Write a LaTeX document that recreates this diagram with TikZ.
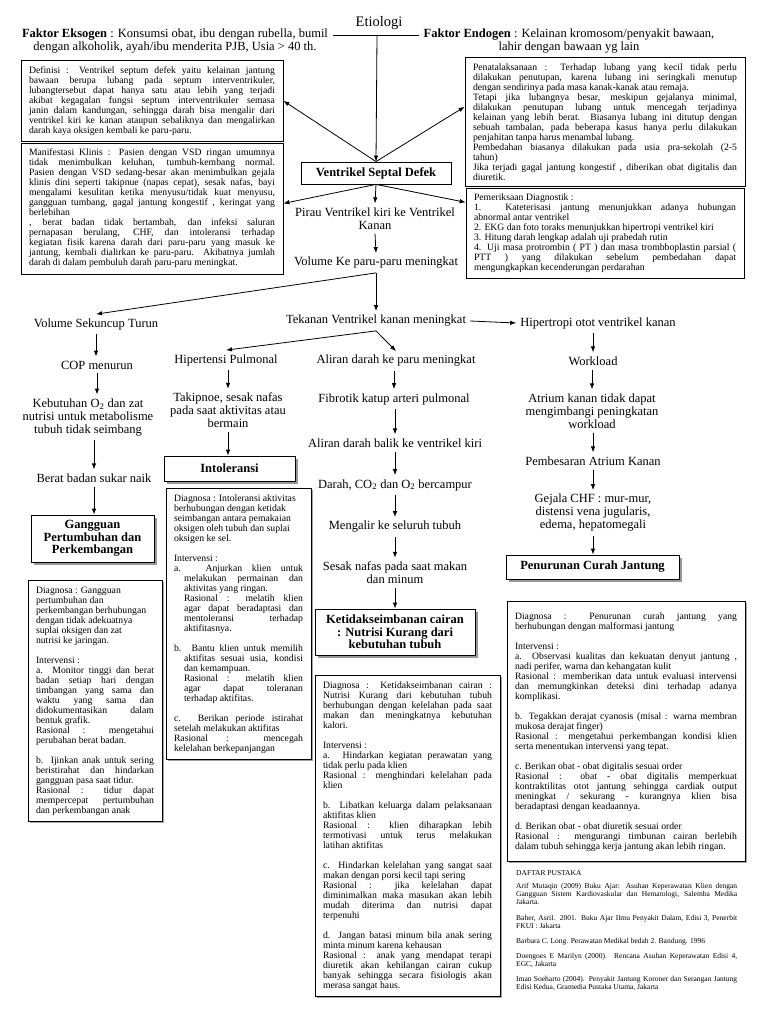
\documentclass[tikz,border=0pt]{standalone}
\usepackage{fontspec}
\setmainfont{Liberation Serif}
\usepackage{tikz}
\usetikzlibrary{arrows.meta,positioning,shadows}
\definecolor{shadowgray}{RGB}{125,125,125}
\newcommand{\blankrow}{\par\vspace{10pt}}
\newcommand{\itemhang}{\hangindent=10pt\hangafter=1\relax}
\hbadness=10000
\hfuzz=3pt

\begin{document}
\begin{tikzpicture}[
      x=1pt, y=-1pt,
      lbl/.style={font=\fontsize{12.5}{13}\selectfont, align=center, inner sep=4pt},
      infobox/.style={draw, line width=0.7pt, fill=white, align=justify,
        inner xsep=8pt, inner ysep=6pt, font=\fontsize{9.7}{10}\selectfont},
      diagbox/.style={infobox, drop shadow={shadow xshift=1.5pt,
        shadow yshift=-1.5pt, fill=shadowgray, opacity=0.7}},
      keybox/.style={draw, line width=0.8pt, fill=white, align=center,
        font=\bfseries\fontsize{12.5}{12.5}\selectfont},
      headbox/.style={keybox, drop shadow={shadow xshift=2.5pt,
        shadow yshift=-2.5pt, fill=shadowgray, opacity=0.8}},
      arr/.style={-{Latex[length=6pt, width=4.5pt]}, line width=0.8pt},
      link/.style={line width=0.8pt}
    ]
    \useasboundingbox[fill=white] (0,0) rectangle (768,1024);

    \node[lbl, font=\fontsize{14.5}{15}\selectfont] (etiologi) at (379,23) {Etiologi};
    \node[lbl] (eksogen) at (175,41.5) {\textbf{Faktor Eksogen} : Konsumsi obat, ibu dengan rubella, bumil\\dengan alkoholik, ayah/ibu menderita PJB, Usia > 40 th.};
    \node[lbl] (endogen) at (569,41.5) {\textbf{Faktor Endogen} : Kelainan kromosom/penyakit bawaan,\\lahir dengan bawaan yg lain};
    \coordinate (etL) at (333,35);
    \coordinate (etR) at (419,35);
    \coordinate (etM) at (377,35);

    \node[infobox, text width=246pt, anchor=north] (definisi) at (152,60)
      {Definisi : Ventrikel septum defek yaitu kelainan jantung\linebreak
       bawaan berupa lubang pada septum interventrikuler,\linebreak
       lubangtersebut dapat hanya satu atau lebih yang terjadi\linebreak
       akibat kegagalan fungsi septum interventrikuler semasa\linebreak
       janin dalam kandungan, sehingga darah bisa mengalir dari\linebreak
       ventrikel kiri ke kanan ataupun sebaliknya dan mengalirkan\linebreak
       darah kaya oksigen kembali ke paru-paru.};
    \node[infobox, text width=246pt, below=1pt of definisi] (manifestasi)
      {Manifestasi Klinis : Pasien dengan VSD ringan umumnya\linebreak
       tidak menimbulkan keluhan, tumbuh-kembang normal.\linebreak
       Pasien dengan VSD sedang-besar akan menimbulkan gejala\linebreak
       klinis dini seperti takipnue (napas cepat), sesak nafas, bayi\linebreak
       mengalami kesulitan ketika menyusu/tidak kuat menyusu,\linebreak
       gangguan tumbang, gagal jantung kongestif , keringat yang\linebreak
       berlebihan\\
       , berat badan tidak bertambah, dan infeksi saluran\linebreak
       pernapasan berulang, CHF, dan intoleransi terhadap\linebreak
       kegiatan fisik karena darah dari paru-paru yang masuk ke\linebreak
       jantung, kembali dialirkan ke paru-paru. Akibatnya jumlah\linebreak
       darah di dalam pembuluh darah paru-paru meningkat.};

    \node[infobox, text width=264pt, anchor=north] (penatalaksanaan) at (605,57)
      {Penatalaksanaan : Terhadap lubang yang kecil tidak perlu\linebreak
       dilakukan penutupan, karena lubang ini seringkali menutup\linebreak
       dengan sendirinya pada masa kanak-kanak atau remaja.\\
       Tetapi jika lubangnya besar, meskipun gejalanya minimal,\linebreak
       dilakukan penutupan lubang untuk mencegah terjadinya\linebreak
       kelainan yang lebih berat. Biasanya lubang ini ditutup dengan\linebreak
       sebuah tambalan, pada beberapa kasus hanya perlu dilakukan\linebreak
       penjahitan tanpa harus menambal lubang.\\
       Pembedahan biasanya dilakukan pada usia pra-sekolah (2-5\linebreak
       tahun)\\
       Jika terjadi gagal jantung kongestif , diberikan obat digitalis dan\linebreak
       diuretik.};
    \node[infobox, text width=262pt, below=1pt of penatalaksanaan] (pemeriksaan)
      {Pemeriksaan Diagnostik :\\
       1. Kateterisasi jantung menunjukkan adanya hubungan\linebreak
       abnormal antar ventrikel\\
       2. EKG dan foto toraks menunjukkan hipertropi ventrikel kiri\\
       3. Hitung darah lengkap adalah uji prabedah rutin\\
       4. Uji masa protrombin ( PT ) dan masa trombboplastin parsial (\linebreak
       PTT ) yang dilakukan sebelum pembedahan dapat\linebreak
       mengungkapkan kecenderungan perdarahan};

    \node[keybox, minimum width=150pt, minimum height=22pt] (vsd) at (376,173) {Ventrikel Septal Defek};
    \node[lbl] (pirau) at (375,218.5) {Pirau Ventrikel kiri ke Ventrikel\\Kanan};
    \node[lbl] (volparu) at (376,263) {Volume Ke paru-paru meningkat};
    \node[lbl] (volsek) at (96,324) {Volume Sekuncup Turun};
    \node[lbl] (tekanan) at (376,321) {Tekanan Ventrikel kanan meningkat};
    \node[lbl] (hipertropi) at (598,323) {Hipertropi otot ventrikel kanan};
    \node[lbl] (hipertensi) at (226,360) {Hipertensi Pulmonal};
    \node[lbl] (aliran) at (396,361) {Aliran darah ke paru meningkat};

    \node[lbl] (cop) at (97,365) {COP menurun};
    \node[lbl] (kebutuhan) at (88,417.5) {Kebutuhan O\textsubscript{2} dan zat\\nutrisi untuk metabolisme\\tubuh tidak seimbang};
    \node[lbl] (berat) at (94,478) {Berat badan sukar naik};
    \node[headbox, minimum width=123pt, minimum height=47pt] (gangguan) at (92.5,538.5) {Gangguan\\Pertumbuhan dan\\Perkembangan};
    \node[diagbox, text width=118pt, below=18pt of gangguan, xshift=2.5pt] (diaggangguan)
      {Diagnosa : Gangguan\\
       pertumbuhan dan\\
       perkembangan berhubungan\\
       dengan tidak adekuatnya\\
       suplai oksigen dan zat\\
       nutrisi ke jaringan.\blankrow
       Intervensi :\\
       a. Monitor tinggi dan berat\linebreak
       badan setiap hari dengan\linebreak
       timbangan yang sama dan\linebreak
       waktu yang sama dan\linebreak
       didokumentasikan dalam\linebreak
       bentuk grafik.\\
       Rasional : mengetahui\linebreak
       perubahan berat badan.\blankrow
       b. Ijinkan anak untuk sering\linebreak
       beristirahat dan hindarkan\linebreak
       gangguan pasa saat tidur.\\
       Rasional : tidur dapat\linebreak
       mempercepat pertumbuhan\linebreak
       dan perkembangan anak};

    \node[lbl] (takipnoe) at (228,410.5) {Takipnoe, sesak nafas\\pada saat aktivitas atau\\bermain};
    \node[headbox, minimum width=131pt, minimum height=25pt] (intoleransi) at (229.5,468.5) {Intoleransi};
    \node[diagbox, text width=129pt, below=7pt of intoleransi, xshift=9pt] (diagintoleransi)
      {Diagnosa : Intoleransi aktivitas\\
       berhubungan dengan ketidak\\
       seimbangan antara pemakaian\\
       oksigen oleh tubuh dan suplai\\
       oksigen ke sel.\blankrow
       Intervensi :\par
       \itemhang a. Anjurkan klien untuk\linebreak
       melakukan permainan dan\linebreak
       aktivitas yang ringan.\\
       Rasional : melatih klien\linebreak
       agar dapat beradaptasi dan\linebreak
       mentoleransi terhadap\linebreak
       aktifitasnya.\blankrow
       \itemhang b. Bantu klien untuk memilih\linebreak
       aktifitas sesuai usia, kondisi\linebreak
       dan kemampuan.\\
       Rasional : melatih klien\linebreak
       agar dapat toleranan\linebreak
       terhadap aktifitas.\blankrow
       \itemhang c. Berikan periode istirahat\linebreak
       setelah melakukan aktifitas\\
       Rasional : mencegah\linebreak
       kelelahan berkepanjangan};

    \node[lbl] (fibrotik) at (394,399) {Fibrotik katup arteri pulmonal};
    \node[lbl] (balik) at (395,443) {Aliran darah balik ke ventrikel kiri};
    \node[lbl] (campur) at (395,485) {Darah, CO\textsubscript{2} dan O\textsubscript{2} bercampur};
    \node[lbl] (mengalir) at (395,527) {Mengalir ke seluruh tubuh};
    \node[lbl] (sesak) at (395,573) {Sesak nafas pada saat makan\\dan minum};
    \node[headbox, minimum width=160pt, minimum height=46pt] (nutrisi) at (395,632) {Ketidakseimbanan cairan\\: Nutrisi Kurang dari\\kebutuhan tubuh};
    \node[diagbox, text width=169pt, below=20pt of nutrisi, xshift=12.5pt] (diagnutrisi)
      {Diagnosa : Ketidakseimbanan cairan :\linebreak
       Nutrisi Kurang dari kebutuhan tubuh\linebreak
       berhubungan dengan kelelahan pada saat\linebreak
       makan dan meningkatnya kebutuhan\linebreak
       kalori.\blankrow
       Intervensi :\\
       a. Hindarkan kegiatan perawatan yang\linebreak
       tidak perlu pada klien\\
       Rasional : menghindari kelelahan pada\linebreak
       klien\blankrow
       b. Libatkan keluarga dalam pelaksanaan\linebreak
       aktifitas klien\\
       Rasional : klien diharapkan lebih\linebreak
       termotivasi untuk terus melakukan\linebreak
       latihan aktifitas\blankrow
       c. Hindarkan kelelahan yang sangat saat\linebreak
       makan dengan porsi kecil tapi sering\\
       Rasional : jika kelelahan dapat\linebreak
       diminimalkan maka masukan akan lebih\linebreak
       mudah diterima dan nutrisi dapat\linebreak
       terpenuhi\blankrow
       d. Jangan batasi minum bila anak sering\linebreak
       minta minum karena kehausan\\
       Rasional : anak yang mendapat terapi\linebreak
       diuretik akan kehilangan cairan cukup\linebreak
       banyak sehingga secara fisiologis akan\linebreak
       merasa sangat haus.};

    \node[lbl] (workload) at (593,361) {Workload};
    \node[lbl] (atrium) at (592,411) {Atrium kanan tidak dapat\\mengimbangi peningkatan\\workload};
    \node[lbl] (pembesaran) at (593,461) {Pembesaran Atrium Kanan};
    \node[lbl] (gejala) at (593,513) {Gejala CHF : mur-mur,\\distensi vena jugularis,\\edema, hepatomegali};
    \node[headbox, minimum width=173pt, minimum height=24pt] (penurunan) at (592.5,567) {Penurunan Curah Jantung};
    \node[diagbox, text width=222pt, minimum height=260pt, below=22pt of penurunan, xshift=33.5pt] (diagjantung)
      {Diagnosa : Penurunan curah jantung yang\linebreak
       berhubungan dengan malformasi jantung\blankrow
       Intervensi :\\
       a. Observasi kualitas dan kekuatan denyut jantung ,\linebreak
       nadi perifer, warna dan kehangatan kulit\\
       Rasional : memberikan data untuk evaluasi intervensi\linebreak
       dan memungkinkan deteksi dini terhadap adanya\linebreak
       komplikasi.\blankrow
       b. Tegakkan derajat cyanosis (misal : warna membran\linebreak
       mukosa derajat finger)\\
       Rasional : mengetahui perkembangan kondisi klien\linebreak
       serta menentukan intervensi yang tepat.\blankrow
       c. Berikan obat - obat digitalis sesuai order\\
       Rasional : obat - obat digitalis memperkuat\linebreak
       kontraktilitas otot jantung sehingga cardiak output\linebreak
       meningkat / sekurang - kurangnya klien bisa\linebreak
       beradaptasi dengan keadaannya.\blankrow
       d. Berikan obat - obat diuretik sesuai order\\
       Rasional : mengurangi timbunan cairan berlebih\linebreak
       dalam tubuh sehingga kerja jantung akan lebih ringan.};

    \node[font=\fontsize{7.5}{8}\selectfont, text width=221pt, align=justify,
      inner sep=0pt, anchor=north west] (pustaka) at (516,870)
      {DAFTAR PUSTAKA\par\vspace{5pt}
       Arif Mutaqin (2009) Buku Ajar: Asuhan Keperawatan Klien dengan\linebreak
       Gangguan Sistem Kardiovaskular dan Hematologi, Salemba Medika\linebreak
       Jakarta.\par\vspace{8pt}
       Baher, Asril. 2001. Buku Ajar Ilmu Penyakit Dalam, Edisi 3, Penerbit\linebreak
       FKUI : Jakarta\par\vspace{7pt}
       Barbara C. Long. Perawatan Medikal bedah 2. Bandung. 1996\par\vspace{7pt}
       Doengoes E Marilyn (2000). Rencana Asuhan Keperawatan Edisi 4,\linebreak
       EGC, Jakarta\par\vspace{7pt}
       Iman Soeharto (2004). Penyakit Jantung Koroner dan Serangan Jantung\linebreak
       Edisi Kedua, Gramedia Pustaka Utama, Jakarta};

    \draw[link] (etL) -- (etR);
    \draw[arr] (etM) -- (vsd.north);
    \draw[arr] (vsd.north) -- (definisi.east);
    \draw[arr] (vsd.north) -- ([yshift=15pt]penatalaksanaan.west);
    \draw[arr] (vsd.south) -- ([yshift=5pt]manifestasi.east);
    \draw[arr] (vsd.south) -- ([yshift=31pt]pemeriksaan.west);
    \draw[arr] (vsd.south) -- (pirau.north);
    \draw[arr] (pirau.south) -- (volparu.north);
    \draw[arr] (volparu.south) -- (volsek.north);
    \draw[arr] (volparu.south) -- (tekanan.north);
    \draw[arr] (tekanan.east) -- (hipertropi.west);
    \draw[arr] (tekanan.south) -- (hipertensi.north);
    \draw[arr] (tekanan.south) -- (aliran.north);

    \draw[arr] (volsek.south) -- (volsek.south |- cop.north);
    \draw[arr] (cop.south) -- (cop.south |- kebutuhan.north);
    \draw[arr] (berat.north |- kebutuhan.south) -- (berat.north);
    \draw[arr] (berat.south) -- (berat.south |- gangguan.north);

    \draw[arr] (takipnoe.north |- hipertensi.south) -- (takipnoe.north);
    \draw[arr] (takipnoe.south) -- (takipnoe.south |- intoleransi.north);

    \draw[arr] (fibrotik.north |- aliran.south) -- (fibrotik.north);
    \draw[arr] (balik.north |- fibrotik.south) -- (balik.north);
    \draw[arr] (campur.north |- balik.south) -- (campur.north);
    \draw[arr] (mengalir.north |- campur.south) -- (mengalir.north);
    \draw[arr] (sesak.north |- mengalir.south) -- (sesak.north);
    \draw[arr] (sesak.south) -- (sesak.south |- nutrisi.north);

    \draw[arr] (workload.north |- hipertropi.south) -- (workload.north);
    \draw[arr] (atrium.north |- workload.south) -- (atrium.north);
    \draw[arr] (pembesaran.north |- atrium.south) -- (pembesaran.north);
    \draw[arr] (gejala.north |- pembesaran.south) -- (gejala.north);
    \draw[arr] (gejala.south) -- (gejala.south |- penurunan.north);
  \end{tikzpicture}
\end{document}
